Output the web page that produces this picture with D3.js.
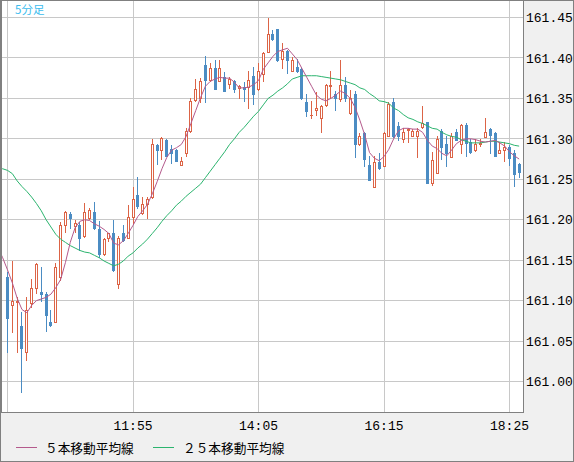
<!DOCTYPE html>
<html><head><meta charset="utf-8">
<script src="https://cdn.jsdelivr.net/npm/d3@7"></script>
<style>html,body{margin:0;padding:0;background:#f0f0f0;}svg{display:block;}</style>
</head><body>
<svg id="c" width="574" height="462"></svg>
<script>
// ---- data ----
const times = ("09:35 09:40 09:45 09:50 09:55 10:00 10:05 10:10 10:15 10:20 10:25 10:30 10:35 10:40 10:45 10:50 10:55 " +
 "11:00 11:05 11:10 11:15 11:20 11:25 11:30 11:35 11:40 11:45 11:50 11:55 12:00 12:05 12:10 12:15 12:20 12:25 12:30 12:35 12:40 12:45 12:50 12:55 " +
 "13:00 13:05 13:10 13:15 13:20 13:25 13:30 13:35 13:40 13:45 13:50 13:55 14:00 14:05 14:10 14:15 14:20 14:25 14:30 14:35 14:40 14:45 14:50 14:55 " +
 "15:00 15:05 15:10 15:15 15:20 15:25 15:30 15:35 15:40 15:45 15:50 15:55 16:00 16:05 16:10 16:15 16:20 16:25 16:30 16:35 16:40 16:45 16:50 16:55 " +
 "17:00 17:05 17:10 17:15 17:20 17:25 17:30 17:35 17:40 17:45 17:50 17:55 18:00 18:05 18:10 18:15 18:20 18:25 18:30 18:35").split(" ");

const open = [null,null,
161.129,161.094,161.098,161.069,161.037,161.097,161.115,161.111,161.108,161.073,
161.073,161.129,161.194,161.207,161.192,161.194,161.180,161.202,161.210,161.189,
161.158,161.178,161.183,161.121,161.183,161.178,161.203,161.231,161.208,161.220,
161.228,161.292,161.286,161.299,161.288,161.286,161.268,161.282,161.310,161.348,
161.351,161.391,161.373,161.388,161.372,161.376,161.368,161.372,161.363,161.364,
161.364,161.378,161.362,161.380,161.407,161.430,161.436,161.399,161.409,161.384,
161.389,161.386,161.346,161.329,161.336,161.326,161.342,161.365,161.356,161.349,
161.366,161.332,161.356,161.293,161.307,161.268,161.241,161.271,161.267,161.304,
161.345,161.316,161.300,161.311,161.303,161.303,161.315,161.321,161.246,161.258,
161.310,161.293,161.277,161.309,161.293,161.317,161.296,161.286,161.293,161.302,
161.312,161.307,161.283,161.286,161.290,161.283,161.269];

const high = [null,null,
161.135,161.149,161.104,161.086,161.105,161.127,161.147,161.142,161.111,161.089,
161.146,161.197,161.211,161.209,161.200,161.197,161.221,161.214,161.222,161.199,
161.178,161.183,161.200,161.180,161.194,161.218,161.240,161.253,161.228,161.228,
161.300,161.294,161.302,161.300,161.292,161.287,161.278,161.313,161.350,161.374,
161.375,161.403,161.394,161.397,161.398,161.383,161.376,161.373,161.366,161.370,
161.384,161.389,161.394,161.407,161.450,161.435,161.436,161.418,161.410,161.401,
161.399,161.387,161.356,161.347,161.358,161.342,161.368,161.384,161.359,161.398,
161.377,161.360,161.359,161.307,161.309,161.279,161.279,161.283,161.309,161.346,
161.351,161.321,161.314,161.314,161.312,161.313,161.341,161.321,161.284,161.303,
161.312,161.304,161.307,161.312,161.318,161.319,161.300,161.300,161.300,161.326,
161.313,161.309,161.296,161.296,161.292,161.286,161.270];

const low = [null,null,
161.037,161.061,161.037,160.987,161.027,161.092,161.109,161.100,161.062,161.069,
161.073,161.126,161.185,161.190,161.185,161.162,161.179,161.201,161.189,161.154,
161.157,161.174,161.137,161.115,161.174,161.178,161.195,161.214,161.207,161.202,
161.227,161.269,161.275,161.279,161.270,161.272,161.268,161.279,161.309,161.347,
161.345,161.345,161.372,161.361,161.371,161.359,161.363,161.358,161.351,161.347,
161.338,161.343,161.360,161.372,161.407,161.422,161.396,161.387,161.382,161.384,
161.383,161.349,161.328,161.326,161.329,161.308,161.341,161.351,161.336,161.347,
161.347,161.331,161.277,161.292,161.266,161.249,161.241,161.263,161.266,161.303,
161.302,161.298,161.296,161.296,161.303,161.277,161.314,161.246,161.243,161.258,
161.275,161.267,161.277,161.298,161.282,161.279,161.283,161.285,161.291,161.302,
161.283,161.279,161.283,161.273,161.268,161.242,161.253];

const close = [null,null,
161.078,161.099,161.100,161.042,161.089,161.116,161.145,161.108,161.082,161.070,
161.142,161.194,161.209,161.202,161.196,161.178,161.209,161.212,161.190,161.158,
161.176,161.183,161.138,161.178,161.175,161.203,161.226,161.217,161.220,161.226,
161.294,161.286,161.301,161.279,161.282,161.272,161.273,161.310,161.347,161.362,
161.372,161.373,161.387,161.362,161.387,161.359,161.374,161.361,161.365,161.361,
161.373,161.356,161.384,161.406,161.430,161.424,161.397,161.409,161.398,161.398,
161.384,161.350,161.334,161.330,161.338,161.341,161.367,161.367,161.351,161.366,
161.351,161.350,161.294,161.304,161.275,161.249,161.271,161.264,161.307,161.343,
161.304,161.303,161.309,161.312,161.310,161.310,161.319,161.246,161.274,161.300,
161.290,161.283,161.304,161.299,161.317,161.295,161.284,161.294,161.295,161.309,
161.305,161.279,161.286,161.290,161.276,161.256,161.259];

const ma5 = [
161.166,161.153,161.138,161.122,161.103,161.089,161.085,161.094,161.100,161.102,
161.104,161.108,161.116,161.126,161.147,161.172,161.190,161.198,161.200,161.199,
161.195,161.192,161.188,161.183,161.171,161.169,161.174,161.183,161.193,161.204,
161.211,161.219,161.232,161.247,161.263,161.277,161.286,161.289,161.293,161.303,
161.319,161.335,161.351,161.365,161.371,161.374,161.376,161.375,161.375,161.370,
161.363,161.363,161.364,161.367,161.372,161.386,161.394,161.402,161.408,161.410,
161.412,161.405,161.398,161.387,161.376,161.365,161.354,161.349,161.347,161.350,
161.354,161.359,161.356,161.350,161.339,161.323,161.305,161.283,161.276,161.273,
161.278,161.287,161.300,161.310,161.313,161.313,161.312,161.312,161.308,161.298,
161.291,161.288,161.282,161.279,161.286,161.294,161.298,161.300,161.300,161.299,
161.297,161.296,161.297,161.298,161.295,161.291,161.284,161.279,161.275];

const ma25 = [
161.263,161.263,161.261,161.257,161.248,161.241,161.235,161.228,161.220,161.211,
161.200,161.191,161.182,161.176,161.172,161.168,161.165,161.162,161.160,161.159,
161.156,161.153,161.149,161.146,161.143,161.145,161.149,161.155,161.159,161.165,
161.170,161.176,161.183,161.190,161.198,161.205,161.211,161.218,161.223,161.229,
161.234,161.239,161.244,161.252,161.260,161.268,161.276,161.284,161.293,161.300,
161.308,161.314,161.321,161.328,161.334,161.342,161.350,161.354,161.359,161.363,
161.368,161.374,161.376,161.378,161.378,161.378,161.378,161.377,161.376,161.375,
161.374,161.373,161.371,161.369,161.367,161.363,161.361,161.356,161.352,161.347,
161.346,161.344,161.338,161.335,161.330,161.326,161.324,161.321,161.319,161.316,
161.313,161.312,161.308,161.305,161.303,161.302,161.299,161.297,161.295,161.295,
161.295,161.296,161.297,161.297,161.296,161.295,161.294,161.292,161.291];

const yTicks = [161.00,161.05,161.10,161.15,161.20,161.25,161.30,161.35,161.40,161.45];
const gridTimes = ["09:45","11:55","14:05","16:15","18:25"];
const xLabels = ["11:55","14:05","16:15","18:25"];
const legendNames = ["５本移動平均線","２５本移動平均線"];
const periodLabel = "5分足";

// ---- layout / style ----
const PW = 523, PH = 412;
const C_UP = "#dc6446", C_DN = "#4b8cc3", C_MA5 = "#b45a8c", C_MA25 = "#2bb46e";
const GRID = "#c8c8c8", FRAME = "#808080";
const MONO = "'Liberation Mono','DejaVu Sans Mono',monospace";
const JP = "'Noto Sans CJK JP','Noto Sans',sans-serif";

const svg = d3.select("#c");
const xi = d3.scaleLinear()
  .domain([times.indexOf("09:45"), times.indexOf("18:25")])
  .range([7.5, 509.5]);
const x = t => xi(times.indexOf(t));
const y = d3.scaleLinear().domain([161.00, 161.45]).range([381.5, 17.5]);

svg.append("rect").attr("width",574).attr("height",462).attr("fill","#f0f0f0");
svg.append("rect").attr("x",0).attr("y",0).attr("width",PW).attr("height",PH).attr("fill","#fff");

svg.append("defs").append("clipPath").attr("id","clip")
  .append("rect").attr("x",1).attr("y",1).attr("width",PW-1).attr("height",PH-1);

const grid = svg.append("g").attr("shape-rendering","crispEdges");
grid.selectAll("line.h").data(yTicks).join("line")
  .attr("x1",0).attr("x2",PW)
  .attr("y1",d=>Math.floor(y(d))+0.5).attr("y2",d=>Math.floor(y(d))+0.5)
  .attr("stroke",GRID);
grid.selectAll("line.v").data(gridTimes).join("line")
  .attr("y1",0).attr("y2",PH)
  .attr("x1",d=>Math.floor(x(d))+0.5).attr("x2",d=>Math.floor(x(d))+0.5)
  .attr("stroke",GRID);

const plot = svg.append("g").attr("clip-path","url(#clip)");

// candles
const idx = d3.range(times.length).filter(i => open[i] != null);
const cg = plot.append("g").attr("shape-rendering","crispEdges");
idx.forEach(i => {
  const px = Math.floor(x(times[i]));
  const up = close[i] >= open[i];
  const col = up ? C_UP : C_DN;
  const yH = Math.round(y(high[i])), yL = Math.round(y(low[i]));
  const top = Math.round(y(Math.max(open[i],close[i])));
  const bot = Math.round(y(Math.min(open[i],close[i])));
  cg.append("rect").attr("x",px).attr("y",yH).attr("width",1).attr("height",Math.max(1,yL-yH+1)).attr("fill",col);
  if (up && bot - top >= 2) {
    cg.append("rect").attr("x",px-0.5).attr("y",top+0.5).attr("width",2).attr("height",bot-top)
      .attr("fill","#fff").attr("stroke",col).attr("stroke-width",1);
  } else {
    cg.append("rect").attr("x",px-1).attr("y",top).attr("width",3).attr("height",Math.max(1,bot-top+1)).attr("fill",col);
  }
});

// moving averages
const line = d3.line().x(d=>x(d[0])).y(d=>y(d[1]));
plot.append("path").datum(times.map((t,i)=>[t,ma25[i]]))
  .attr("d",line).attr("fill","none").attr("stroke",C_MA25).attr("stroke-width",1);
plot.append("path").datum(times.map((t,i)=>[t,ma5[i]]))
  .attr("d",line).attr("fill","none").attr("stroke",C_MA5).attr("stroke-width",1);

// frames
const fr = svg.append("g").attr("shape-rendering","crispEdges").attr("fill","none").attr("stroke",FRAME);
fr.append("rect").attr("x",0.5).attr("y",0.5).attr("width",PW).attr("height",PH);
fr.append("line").attr("x1",1.5).attr("x2",1.5).attr("y1",0).attr("y2",PH);
fr.append("rect").attr("x",0.5).attr("y",0.5).attr("width",573-0.5).attr("height",461-0.5);

// y labels
svg.append("g").selectAll("text").data(yTicks).join("text")
  .attr("x",526).attr("y",d=>y(d)).attr("dy","0.36em")
  .attr("font-family",MONO).attr("font-size",13).attr("fill","#000")
  .text(d=>d.toFixed(2));

// x labels
svg.append("g").selectAll("text").data(xLabels).join("text")
  .attr("x",d=>x(d)).attr("y",425).attr("dy","0.36em").attr("text-anchor","middle")
  .attr("font-family",MONO).attr("font-size",13).attr("fill","#000")
  .text(d=>d);

// legend
const lg = svg.append("g");
[[16,45,C_MA5],[153,183,C_MA25]].forEach((p,i)=>{
  lg.append("line").attr("x1",p[0]).attr("x2",p[0]+21).attr("y1",447.5).attr("y2",447.5)
    .attr("stroke",p[2]).attr("stroke-width",1);
  lg.append("text").attr("x",p[1]).attr("y",448).attr("dy","0.36em")
    .attr("font-family",JP).attr("font-size",12.7).attr("fill","#000").text(legendNames[i]);
});

// period label
svg.append("text").attr("x",15).attr("y",10).attr("dy","0.36em")
  .attr("font-family",JP).attr("font-size",11.5).attr("fill","#3bbcee").text(periodLabel);
</script>
</body></html>
